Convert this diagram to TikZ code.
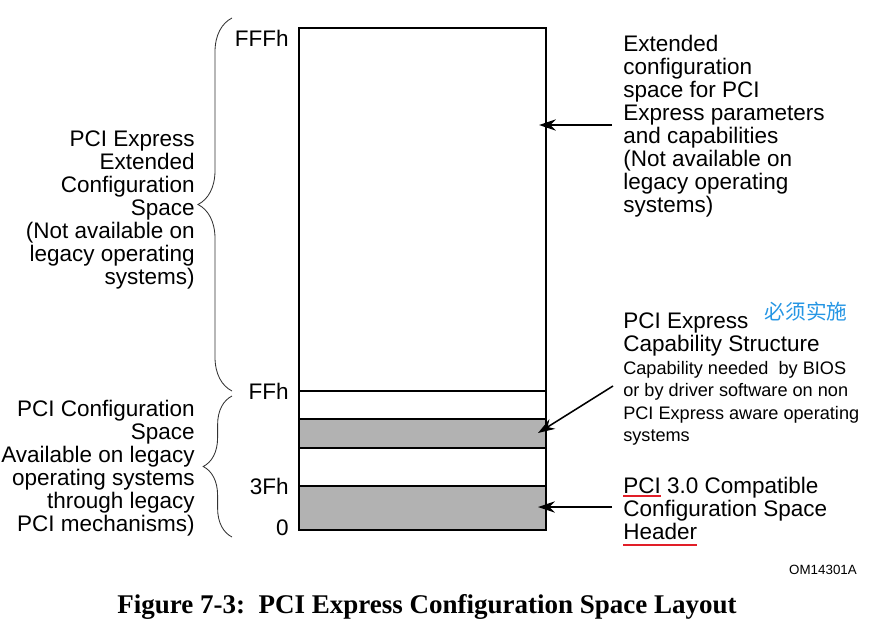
\documentclass[tikz,border=0pt]{standalone}
\usepackage{fontspec}
\setmainfont{Liberation Sans}
\newfontfamily\capfont{Liberation Serif}
\newfontfamily\cjk{Noto Sans CJK SC}
\usetikzlibrary{calc,positioning,arrows.meta,decorations.pathreplacing}
\definecolor{noteblue}{RGB}{38,150,228}
\definecolor{markred}{RGB}{225,30,40}
\newcommand*{\BoxLeft}{299}
\newcommand*{\BoxRight}{546}
\newcommand*{\SpaceRows}[1]{% #1 = list of top/bottom/fill
  \foreach \ya/\yb/\shade in {#1} {
    \draw [fill=\shade, line width=1.2pt] 
      (\BoxLeft,\ya) rectangle (\BoxRight,\yb);
    }%
}
\newcommand*{\RedUnder}[2]{% #1 = depth, #2 = text
  \setbox0=\hbox{#2}\rlap{\color{markred}\rule[-#1]{\wd0}{1.6pt}}#2}

\tikzset{
  big text/.style={font=\fontsize{16}{16.3}\selectfont, inner sep=0pt},
  small text/.style={font=\fontsize{12.9}{16}\selectfont, inner sep=0pt},
  pointer/.style={line width=1.1pt, -{Stealth[length=12pt, width=8pt]}},
  span brace/.style={decorate, line width=0.6pt, black!80},
}

\begin{document}
\begin{tikzpicture}[x=0.025cm, y=-0.025cm]
    \useasboundingbox (0,0) rectangle (892,631);

    \SpaceRows{
       28/391/white,
       391/419/white,
       419/448/black!30,
       448/486/white,
       486/530/black!30
    }

    % offsets
    \foreach \addr/\y in {FFFh/38, FFh/391, 3Fh/486, 0/528}
      \node [big text, anchor=east] (a\addr) at (289,\y) {\addr};

    % braces on the left
    \coordinate (extTop) at (232,18);
    \coordinate (extBot) at (232,391);
    \coordinate (cfgTop) at (232,396);
    \coordinate (cfgBot) at (232,537);
    \draw [span brace, decoration={brace, amplitude=0.85cm}] (extBot) -- (extTop);
    \draw [span brace, decoration={brace, amplitude=0.72cm}] (cfgBot) -- (cfgTop);

    \node [big text, anchor=north east, align=right] (extLabel) at (195,131)
      {PCI Express\\Extended\\Configuration\\Space\\(Not available on\\legacy operating\\systems)};
    \node [big text, anchor=north east, align=right] (cfgLabel) at (195,400)
      {PCI Configuration\\Space\\Available on legacy\\operating systems\hspace*{0.3em}\\through legacy\\PCI mechanisms)};

    % notes on the right
    \node [big text, anchor=north west, align=left] (extNote) at (623,35)
      {Extended\\configuration\\space for PCI\\Express parameters\\and capabilities\\(Not available on\\legacy operating\\systems)};
    \node [big text, anchor=north west, align=left] (capTitle) at (623,313)
      {PCI Express\\Capability Structure};
    \node [small text, anchor=north west, align=left] (capBody) at (623,361)
      {Capability needed\ \ by BIOS\\or by driver software on non\\PCI Express aware operating\\systems};
    \node [big text, anchor=north west, align=left] (hdrNote) at (623,477)
      {\RedUnder{2.5pt}{PCI} 3.0 Compatible\\Configuration Space\\\RedUnder{5pt}{Header}};
    \node [text=noteblue, font=\cjk\fontsize{14.7}{16}\selectfont, inner sep=0pt] (mustNote) at (806,312) {必须实施};

    \coordinate (extTip) at (539,125);
    \coordinate (capTip) at (538,433);
    \coordinate (hdrTip) at (538,507);
    \draw [pointer] ($(extNote.west |- extTip)+(-11,0)$) -- (extTip);
    \draw [pointer] ($(capBody.north west)+(-10,25)$) -- (capTip);
    \draw [pointer] ($(hdrNote.west |- hdrTip)+(-11,0)$) -- (hdrTip);

    \node [font=\fontsize{9.5}{11}\selectfont, inner sep=0pt] (figId) at (823,570) {OM14301A};
    \node [font=\capfont\bfseries\fontsize{19.2}{21}\selectfont, inner sep=0pt] (figCap) at (427,607)
      {Figure 7-3:\ \ PCI Express Configuration Space Layout};
\end{tikzpicture}
\end{document}
